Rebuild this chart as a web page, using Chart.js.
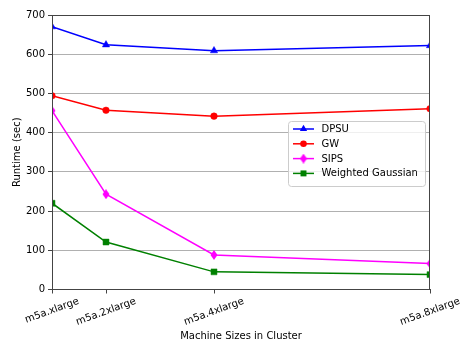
<!DOCTYPE html>
<html>
<head>
<meta charset="utf-8">
<script src="https://cdn.jsdelivr.net/npm/chart.js@4/dist/chart.umd.min.js"></script>
<style>
html,body{margin:0;padding:0;background:#fff;}
#c{display:block;}
</style>
</head>
<body>
<canvas id="c" width="474" height="355"></canvas>
<script>
// ---- data ----
const categories = ['m5a.xlarge', 'm5a.2xlarge', 'm5a.4xlarge', 'm5a.8xlarge'];
const vcpus = [4, 8, 16, 32];
const dpsu = [670, 624, 609, 622];
const gw = [494, 457, 442, 461];
const sips = [456, 243, 88, 66];
const weightedGaussian = [220, 121, 45, 38];
const yTicks = [0, 100, 200, 300, 400, 500, 600, 700];

const FONT = 'DejaVu Sans';

function pts(vals) { return vals.map((v, i) => ({ x: vcpus[i], y: v })); }

// thin diamond marker image
function thinDiamond(color) {
  const c = document.createElement('canvas');
  c.width = 8; c.height = 10;
  const g = c.getContext('2d');
  g.fillStyle = color;
  g.beginPath();
  g.moveTo(4, 0); g.lineTo(7.5, 5); g.lineTo(4, 10); g.lineTo(0.5, 5); g.closePath();
  g.fill();
  return c;
}
const diamondImg = thinDiamond('#ff00ff');

const series = [
  { label: 'DPSU', data: dpsu, color: '#0000ff', style: 'triangle', r: 4.2 },
  { label: 'GW', data: gw, color: '#ff0000', style: 'circle', r: 3.3 },
  { label: 'SIPS', data: sips, color: '#ff00ff', style: diamondImg, r: 4 },
  { label: 'Weighted Gaussian', data: weightedGaussian, color: '#008000', style: 'rect', r: 4.2 }
];

const datasets = series.map(s => ({
  label: s.label,
  data: pts(s.data),
  borderColor: s.color,
  backgroundColor: s.color,
  borderWidth: 1.5,
  pointStyle: s.style,
  pointRadius: s.r,
  pointHoverRadius: s.r,
  pointBorderWidth: 0.5,
  pointBorderColor: s.color,
  pointBackgroundColor: s.color,
  tension: 0,
  clip: 0
}));

const framePlugin = {
  id: 'frame',
  afterDatasetsDraw(chart) {
    const { ctx, chartArea: a } = chart;
    ctx.save();
    ctx.strokeStyle = '#444';
    ctx.lineWidth = 1;
    ctx.strokeRect(Math.round(a.left) + 0.5, Math.round(a.top) + 0.5,
      Math.round(a.right - a.left) - 1, Math.round(a.bottom - a.top) - 1);
    ctx.restore();
  },
  afterDraw(chart) {
    const { ctx, chartArea: a } = chart;
    const xs = chart.scales.x;
    // rotated x tick labels, centered on ticks
    ctx.save();
    ctx.font = '10px "' + FONT + '"';
    ctx.fillStyle = '#000';
    ctx.textAlign = 'center';
    ctx.textBaseline = 'middle';
    const ang = 20 * Math.PI / 180;
    categories.forEach((lab, i) => {
      const x = xs.getPixelForValue(vcpus[i]);
      const w = ctx.measureText(lab).width;
      const h = 11.6;
      const bh = w * Math.sin(ang) + h * Math.cos(ang);
      const cy = a.bottom + 6 + bh / 2;
      ctx.save();
      ctx.translate(x, cy);
      ctx.rotate(-ang);
      ctx.fillText(lab, 0, 0);
      ctx.restore();
    });
    ctx.restore();

    // legend box
    const lx = 288, ly = 121, lw = 137, lh = 65;
    ctx.save();
    ctx.globalAlpha = 0.8;
    ctx.fillStyle = '#fff';
    ctx.strokeStyle = '#cccccc';
    ctx.lineWidth = 1;
    ctx.beginPath();
    if (ctx.roundRect) ctx.roundRect(lx + 0.5, ly + 0.5, lw, lh, 3); else ctx.rect(lx + 0.5, ly + 0.5, lw, lh);
    ctx.fill();
    ctx.globalAlpha = 1;
    ctx.stroke();
    ctx.font = '10px "' + FONT + '"';
    ctx.textAlign = 'left';
    ctx.textBaseline = 'middle';
    series.forEach((s, i) => {
      const y = 129 + i * 14.8;
      ctx.strokeStyle = s.color;
      ctx.lineWidth = 1.5;
      ctx.beginPath();
      ctx.moveTo(293, y); ctx.lineTo(314, y);
      ctx.stroke();
      const mx = 303.5;
      ctx.fillStyle = s.color;
      ctx.beginPath();
      if (s.style === 'triangle') {
        const r = s.r;
        ctx.moveTo(mx, y - r); ctx.lineTo(mx + r * 0.866, y + r * 0.5); ctx.lineTo(mx - r * 0.866, y + r * 0.5); ctx.closePath();
        ctx.fill();
      } else if (s.style === 'circle') {
        ctx.arc(mx, y, s.r, 0, Math.PI * 2); ctx.fill();
      } else if (s.style === 'rect') {
        const d = s.r * Math.SQRT1_2;
        ctx.fillRect(mx - d, y - d, 2 * d, 2 * d);
      } else {
        ctx.drawImage(diamondImg, mx - 4, y - 5);
      }
      ctx.fillStyle = '#000';
      ctx.fillText(s.label, 321.5, y + 0.5);
    });
    ctx.restore();
  }
};

new Chart(document.getElementById('c'), {
  type: 'line',
  data: { datasets },
  options: {
    responsive: false,
    devicePixelRatio: 1,
    animation: false,
    events: [],
    layout: { padding: { left: 0, right: 44, top: 15, bottom: 0 } },
    plugins: { legend: { display: false }, tooltip: { enabled: false } },
    scales: {
      x: {
        type: 'linear',
        min: 4, max: 32,
        afterBuildTicks(scale) { scale.ticks = vcpus.map(v => ({ value: v })); },
        afterFit(scale) { scale.height = 65.5; },
        ticks: { display: false },
        grid: { drawOnChartArea: false, drawTicks: true, tickLength: 4, tickColor: '#444' },
        border: { display: true, color: '#444', width: 1 },
        title: {
          display: true, text: 'Machine Sizes in Cluster', color: '#000',
          font: { family: FONT, size: 10, lineHeight: 1.2 },
          padding: { top: 0, bottom: 12.5 }
        }
      },
      y: {
        min: 0, max: 700,
        afterBuildTicks(scale) { scale.ticks = yTicks.map(v => ({ value: v })); },
        afterFit(scale) { scale.width = 52; },
        ticks: { color: '#000', padding: 3, font: { family: FONT, size: 10 } },
        grid: { color: '#b0b0b0', lineWidth: 1, drawTicks: true, tickLength: 4, tickColor: '#444' },
        border: { display: true, color: '#444', width: 1 },
        title: {
          display: true, text: 'Runtime (sec)', color: '#000',
          font: { family: FONT, size: 10, lineHeight: 1.2 },
          padding: { top: 11, bottom: 0 }
        }
      }
    }
  },
  plugins: [framePlugin]
});
</script>
</body>
</html>
